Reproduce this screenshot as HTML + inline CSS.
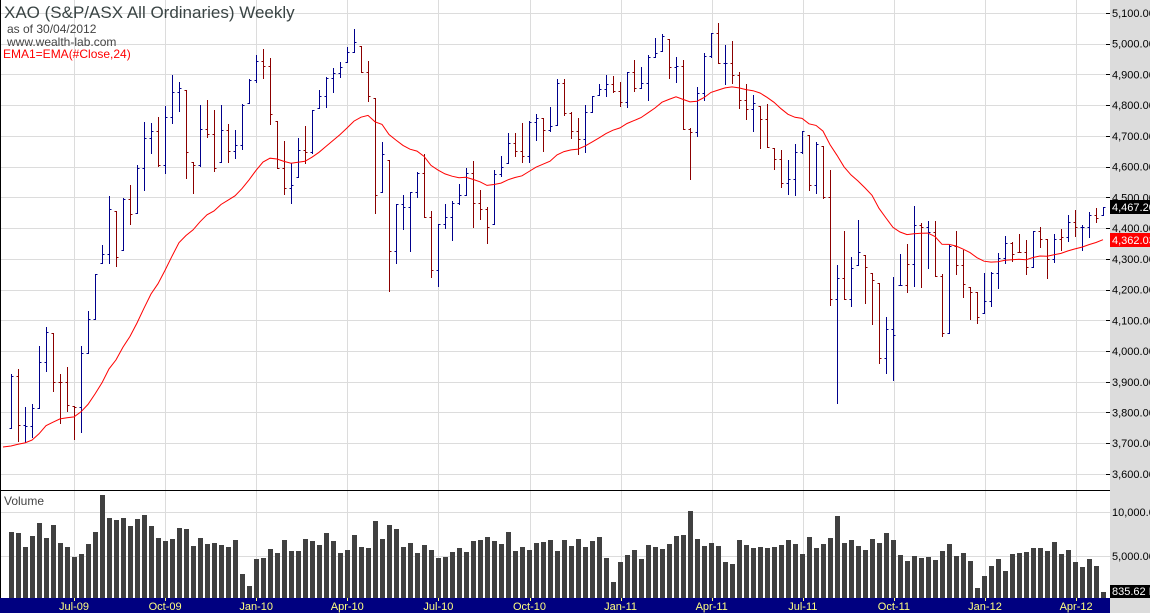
<!DOCTYPE html>
<html><head><meta charset="utf-8"><style>
html,body{margin:0;padding:0;background:#fff;}
svg{display:block;font-family:"Liberation Sans",sans-serif;}
</style></head><body>
<svg id="s" width="1150" height="613" xmlns="http://www.w3.org/2000/svg"></svg>
<script>
var S=document.getElementById('s');var h='';
function L(x1,y1,x2,y2,c,w){h+='<line x1="'+x1+'" y1="'+y1+'" x2="'+x2+'" y2="'+y2+'" stroke="'+c+'" stroke-width="'+(w||1)+'" shape-rendering="crispEdges"/>';}
function R(x,y,w,hh,c){h+='<rect x="'+x+'" y="'+y+'" width="'+w+'" height="'+hh+'" fill="'+c+'" shape-rendering="crispEdges"/>';}
function T(x,y,t,c,sz,a){h+='<text x="'+x+'" y="'+y+'" fill="'+c+'" font-size="'+sz+'"'+(a?' text-anchor="'+a+'"':'')+'>'+t+'</text>';}
R(0,0,1150,613,'#fff');
R(1110,0,40,598,'#dcdcdc');
for(var k=0;k<=15;k++){var y=Math.round(13+k*30.73)+0.5;L(0,y,1110,y,'#dcdcdc');}
L(0,512.5,1110,512.5,'#dcdcdc');L(0,556.5,1110,556.5,'#dcdcdc');
for(var k=0;k<12;k++){var x=Math.round(74+k*91.1)+0.5;if(x<1110){L(x,0,x,598,'#dcdcdc');}}
var P=[[1062,1225,1068,1],[1047,1262,1215,0],[1162,1265,1218,1],[1152,1250,1165,1],[978,1165,1025,1],[921,1052,937,1],[940,1112,1085,0],[1062,1208,1085,0],[1042,1172,1155,0],[1158,1258,1160,0],
[978,1235,998,1],[873,998,898,1],[763,898,762,1],[675,728,702,1],[528,728,567,1],[573,737,712,0],[535,690,538,1],[495,612,582,0],[436,580,445,1],[306,510,355,1],
[310,398,333,1],[291,437,436,0],[258,458,292,1],[165,308,216,1],[186,272,205,1],[211,473,397,0],[425,518,435,0],[255,437,327,1],[240,352,342,0],[270,452,443,0],
[255,427,330,1],[312,425,393,0],[330,415,375,1],[253,388,255,1],[178,250,180,1],[105,187,123,1],[88,175,138,0],[115,312,283,0],[303,445,445,0],[363,523,505,0],
[428,548,495,1],[353,472,390,1],[318,428,395,0],[270,398,270,1],[210,265,228,1],[172,260,175,1],[145,215,158,1],[127,170,140,1],[82,127,95,1],[28,97,67,1],
[78,155,155,0],[123,242,227,0],[235,578,525,0],[367,515,403,1],[420,812,693,0],[552,728,552,1],[525,627,560,1],[517,692,517,1],[455,530,458,1],[403,590,590,0],
[572,770,750,0],[612,797,612,1],[552,623,592,1],[543,660,548,1],[492,552,525,1],[443,525,458,1],[423,620,550,0],[510,597,568,0],[562,668,622,0],[450,612,462,1],
[408,467,440,1],[340,430,368,1],[340,407,392,0],[308,425,408,0],[303,425,305,1],[282,360,295,1],[295,392,330,0],[262,333,318,1],[178,315,190,1],[178,285,278,0],
[275,353,333,0],[295,403,358,0],[255,395,277,1],[228,275,228,1],[193,225,208,1],[165,228,192,1],[168,215,213,0],[187,258,246,0],[157,260,157,1],[120,213,203,0],
[142,205,188,1],[105,240,112,1],[53,112,100,1],[43,92,48,1],[57,173,142,0],[110,185,138,1],[120,327,327,0],[325,477,335,0],[200,347,218,1],[100,240,108,1],
[38,110,40,1],[10,130,130,0],[75,192,128,1],[62,188,165,0],[157,265,240,0],[193,297,267,0],[225,332,250,1],[258,383,297,0],[252,382,382,0],[385,447,417,0],
[390,500,488,0],[420,522,476,1],[372,525,397,1],[333,400,333,1],[345,510,495,0],[367,518,372,1],[378,535,532,0],[450,855,838,0],[735,1148,775,1],[632,837,837,0],
[710,857,745,1],[600,735,695,1],[705,848,740,0],[758,913,780,0],[788,1030,1015,0],[890,1060,928,1],[770,1080,945,1],[702,795,795,1],[672,815,733,0],[557,797,615,1],
[610,800,620,0],[603,743,635,1],[603,768,768,0],[763,947,940,0],[675,940,677,1],[633,763,735,0],[690,830,793,0],[800,897,817,0],[817,908,890,0],[758,880,843,1],
[755,857,760,1],[698,805,713,1],[647,730,670,1],[665,723,703,0],[642,697,695,0],[660,763,740,0],[633,742,633,1],[620,680,657,0],[658,775,717,0],[642,727,657,1],
[627,690,650,0],[585,662,605,1],[570,648,620,0],[615,690,620,1],[577,652,585,1],[565,605,595,0],[562,585,562,1]];
function Y(z){return 20+z/3;}
var V1=[155,160,200,168,128,173,134,188,200,230,222,191,156,44,114,120,114,138,117,104,137,173,183,177,144,147,198,173,191,188,194,200,180,282,318,237,233,207,218,180,212,212,176,183,194,158,183,218,210,164,200,203,122,176,134,146];
var V2=[156,144,174,150,165,189,186,171,159,171,138,135,126,138,147,111,168,156,165,144,141,135,168,135,153,132,156,138,126,189,261,201,180,165,192,150,156,162,147];
var V3=[123,120,48,132,153,144,153,201,207,135,150,159,156,159,156,150,135,147,177,126,159,147,129,63,144,135,153,165,132,144,114,135,180,198,183,189,186,195,168,147,183];
var V4=[218,242,323,288,258,237,272,222,218,215,204,204,213,186,222,210,245,261,237,258,336];
var V=[];V1.forEach(function(z){V.push(480+z/3)});V2.forEach(function(z){V.push(495+z/3)});V3.forEach(function(z){V.push(495+z/3)});V4.forEach(function(z){V.push(480+z/3)});
for(var i=0;i<V.length;i++){var x=11+7*i;var t=Math.round(V[i]);R(x-2,t,5,598-t,'#404040');}
var prev=null;var ema=446,a=2/25,pts=[];
for(var i=0;i<P.length;i++){var p=P[i];var x=Math.round(11+7*i)+0.5;var c=p[3]?'#00008b':'#8b0000';
var hi=Math.round(Y(p[0])),lo=Math.round(Y(p[1])),cl=Math.round(Y(p[2]))+0.5;
var op=prev===null?lo:prev;op=Math.max(hi,Math.min(lo,Math.round(op)))+0.5;
L(x,hi,x,lo+1,c);L(x-2,op,x,op,c);L(x,cl,x+2,cl,c);prev=Y(p[2]);
ema=i==0?446:ema+a*(Y(p[2])-ema);pts.push((11+7*i)+','+ema.toFixed(1));}
h+='<polyline points="3,447 '+pts.join(' ')+'" fill="none" stroke="#ff0000" stroke-width="1"/>';
L(0,490.5,1110,490.5,'#000');L(0.5,0,0.5,598,'#000');
var lv=['5,100.00','5,000.00','4,900.00','4,800.00','4,700.00','4,600.00','4,500.00','4,400.00','4,300.00','4,200.00','4,100.00','4,000.00','3,900.00','3,800.00','3,700.00','3,600.00'];
for(var k=0;k<16;k++){var y=13+k*30.73;L(1106,Math.round(y)+0.5,1110,Math.round(y)+0.5,'#000');T(1112,y+4,lv[k],'#000',11);}
R(1110,200,40,14,'#000');T(1112,211,'4,467.20','#fff',11);
R(1110,233,40,14,'#ff0000');T(1112,244,'4,362.03','#fff',11);
T(1112,516,'10,000.00','#000',11);T(1112,560,'5,000.00','#000',11);
R(1110,585,40,13,'#000');T(1112,595,'835.62 M','#fff',11);
R(0,598,1150,15,'#000080');R(1110,598,40,15,'#dcdcdc');
var dl=['Jul-09','Oct-09','Jan-10','Apr-10','Jul-10','Oct-10','Jan-11','Apr-11','Jul-11','Oct-11','Jan-12','Apr-12'];
for(var k=0;k<12;k++){var x=74+k*91.1;L(Math.round(x)+0.5,598,Math.round(x)+0.5,601,'#ffff80');T(x,610,dl[k],'#ffff80',11,'middle');}
T(4,18,'XAO (S&amp;P/ASX All Ordinaries) Weekly','#3a4444',17);
T(7,33,'as of 30/04/2012','#444',12);
T(7,46,'www.wealth-lab.com','#444',12);
T(3,58,'EMA1=EMA(#Close,24)','#ff0000',12);
T(4,505,'Volume','#444',12);
S.innerHTML=h;
</script>
</body></html>
